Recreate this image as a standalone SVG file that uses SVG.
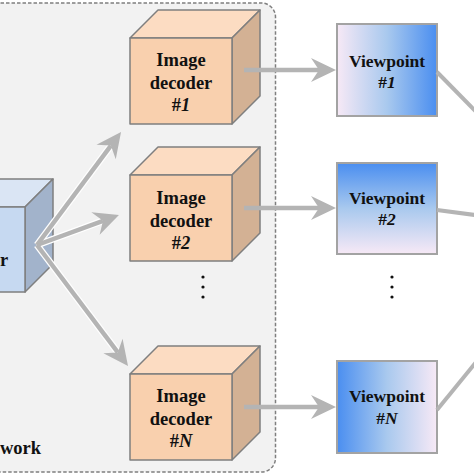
<svg xmlns="http://www.w3.org/2000/svg" width="474" height="474" viewBox="0 0 474 474">
<style>
.lbl{font-family:"Liberation Serif","Times New Roman",serif;font-weight:bold;fill:#111;text-anchor:middle}
.dec{font-size:18.5px}
.vp{font-size:17.5px}
.it{font-style:italic}
.fr{fill:#f9d0ae;stroke:#7f7f7f;stroke-width:1.5;stroke-linejoin:round}
.tp{fill:#fcdcc2;stroke:#7f7f7f;stroke-width:1.5;stroke-linejoin:round}
.sd{fill:#d3b194;stroke:#7f7f7f;stroke-width:1.5;stroke-linejoin:round}
.efr{fill:#c6d9f1;stroke:#7f7f7f;stroke-width:1.5}
.etp{fill:#dae5f4;stroke:#7f7f7f;stroke-width:1.5;stroke-linejoin:round}
.esd{fill:#a2b3cb;stroke:#7f7f7f;stroke-width:1.5;stroke-linejoin:round}
.box{stroke:#a3a3a3;stroke-width:2}
.arr{fill:none;stroke:#b4b4b4;stroke-width:4.5}
.halo{fill:none;stroke:#ffffff;stroke-width:7}
.out{fill:none;stroke:#b4b4b4;stroke-width:4}
.dot{fill:#111}
</style>
<defs>
<linearGradient id="gH1" x1="0" y1="0" x2="1" y2="0">
<stop offset="0" stop-color="#f7e9f6"/><stop offset="0.5" stop-color="#a9c9ee"/><stop offset="1" stop-color="#4a8ef0"/>
</linearGradient>
<linearGradient id="gV2" x1="0" y1="0" x2="0" y2="1">
<stop offset="0" stop-color="#4a8ef0"/><stop offset="0.5" stop-color="#a9c9ee"/><stop offset="1" stop-color="#f7e9f6"/>
</linearGradient>
<linearGradient id="gHN" x1="0" y1="0" x2="1" y2="0">
<stop offset="0" stop-color="#4a8ef0"/><stop offset="0.5" stop-color="#a9c9ee"/><stop offset="1" stop-color="#f7e9f6"/>
</linearGradient>
<marker id="ah" markerUnits="userSpaceOnUse" viewBox="0 0 28 28" markerWidth="28" markerHeight="28" refX="9" refY="14" orient="auto">
<path d="M1,2 L26,14 L1,26 L9,14 Z" fill="#b4b4b4"/>
</marker>
</defs>
<rect width="474" height="474" fill="#ffffff"/>
<g id="container">
<rect x="-30" y="3" width="305.5" height="469" rx="14" fill="#f2f2f2" stroke="#7f7f7f" stroke-width="1.5" stroke-dasharray="3.5,2"/>
<text class="lbl dec" x="0" y="454" style="text-anchor:start">work</text>
</g>
<g id="encoder">
<polygon class="etp" points="-80,207 -52,179 53,179 25,207"/>
<polygon class="esd" points="25,207 53,179 53,264 25,292"/>
<rect class="efr" x="-80" y="207" width="105" height="85"/>
<text class="lbl dec" x="0" y="266" style="text-anchor:start">r</text>
</g>
<g id="decoder1">
<polygon class="tp" points="130,38 158,10 260,10 232,38"/>
<polygon class="sd" points="232,38 260,10 260,96 232,124"/>
<rect class="fr" x="130" y="38" width="102" height="86"/>
<text class="lbl dec" x="181" y="66">Image</text>
<text class="lbl dec" x="181" y="88.5">decoder</text>
<text class="lbl dec" x="181" y="111"><tspan>#</tspan><tspan class="it">1</tspan></text>
</g>
<g id="decoder2">
<polygon class="tp" points="130,175 158,147 260,147 232,175"/>
<polygon class="sd" points="232,175 260,147 260,233 232,261"/>
<rect class="fr" x="130" y="175" width="102" height="86"/>
<text class="lbl dec" x="181" y="204">Image</text>
<text class="lbl dec" x="181" y="226.5">decoder</text>
<text class="lbl dec" x="181" y="249"><tspan>#</tspan><tspan class="it">2</tspan></text>
</g>
<g id="decoderN">
<polygon class="tp" points="130,374 158,346 260,346 232,374"/>
<polygon class="sd" points="232,374 260,346 260,432 232,460"/>
<rect class="fr" x="130" y="374" width="102" height="86"/>
<text class="lbl dec" x="181" y="402">Image</text>
<text class="lbl dec" x="181" y="424.5">decoder</text>
<text class="lbl dec" x="181" y="447"><tspan>#</tspan><tspan class="it">N</tspan></text>
</g>
<g id="dots">
<circle class="dot" cx="203" cy="277" r="1.6"/><circle class="dot" cx="203" cy="287" r="1.6"/><circle class="dot" cx="203" cy="297" r="1.6"/>
<circle class="dot" cx="392" cy="277" r="1.6"/><circle class="dot" cx="392" cy="287" r="1.6"/><circle class="dot" cx="392" cy="297" r="1.6"/>
</g>
<g id="viewpoint1">
<rect class="box" x="337" y="24" width="100" height="92" fill="url(#gH1)"/>
<text class="lbl vp" x="387" y="67">Viewpoint</text>
<text class="lbl vp" x="387" y="88"><tspan>#</tspan><tspan class="it">1</tspan></text>
</g>
<g id="viewpoint2">
<rect class="box" x="337" y="163" width="100" height="91" fill="url(#gV2)"/>
<text class="lbl vp" x="387" y="204">Viewpoint</text>
<text class="lbl vp" x="387" y="225"><tspan>#</tspan><tspan class="it">2</tspan></text>
</g>
<g id="viewpointN">
<rect class="box" x="337" y="361" width="100" height="92" fill="url(#gHN)"/>
<text class="lbl vp" x="387" y="402">Viewpoint</text>
<text class="lbl vp" x="387" y="424"><tspan>#</tspan><tspan class="it">N</tspan></text>
</g>
<g id="connectors">
<line class="halo" x1="37" y1="245" x2="110.9" y2="145.6"/>
<line class="halo" x1="37" y1="245" x2="103" y2="220.8"/>
<line class="halo" x1="37" y1="245" x2="117.8" y2="352.4"/>
<line class="arr" x1="37" y1="245" x2="110.9" y2="145.6" marker-end="url(#ah)"/>
<line class="arr" x1="37" y1="245" x2="103" y2="220.8" marker-end="url(#ah)"/>
<line class="arr" x1="37" y1="245" x2="117.8" y2="352.4" marker-end="url(#ah)"/>
<line class="arr" x1="244" y1="70" x2="319" y2="70" marker-end="url(#ah)"/>
<line class="arr" x1="244" y1="208" x2="319" y2="208" marker-end="url(#ah)"/>
<line class="arr" x1="244" y1="407" x2="319" y2="407" marker-end="url(#ah)"/>
<line class="out" x1="437" y1="72" x2="490" y2="126"/>
<line class="out" x1="437" y1="210" x2="490" y2="217"/>
<line class="out" x1="437" y1="410" x2="490" y2="345"/>
</g>
</svg>
